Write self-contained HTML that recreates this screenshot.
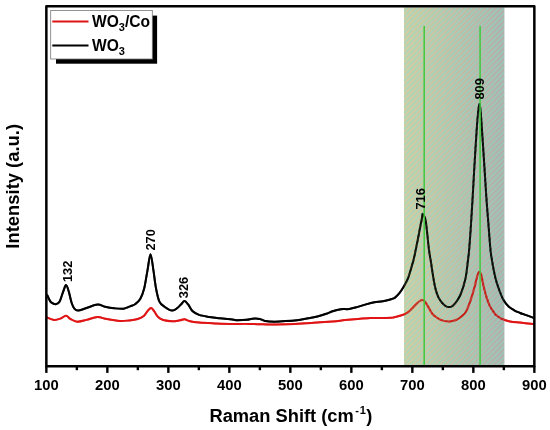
<!DOCTYPE html>
<html><head><meta charset="utf-8"><title>Raman</title>
<style>
html,body{margin:0;padding:0;background:#fff;}
body{width:550px;height:430px;overflow:hidden;}
svg{display:block;}
text{font-family:"Liberation Sans",Arial,sans-serif;font-weight:bold;fill:#000;}
.tl{font-size:14.8px;}
.pk{font-size:12.8px;}
.ax{font-size:18.3px;}
.lg{font-size:15.6px;}
</style></head>
<body>
<svg width="550" height="430" viewBox="0 0 550 430">
<defs>
<linearGradient id="bg" x1="0" y1="0" x2="1" y2="0">
<stop offset="0" stop-color="rgb(140,125,10)" stop-opacity="0.38"/>
<stop offset="1" stop-color="rgb(70,62,50)" stop-opacity="0.42"/>
</linearGradient>
<pattern id="hatch" width="3.8" height="4" patternUnits="userSpaceOnUse" patternTransform="rotate(45)">
<rect x="0" y="0" width="1.9" height="4" fill="rgb(128,225,208)" fill-opacity="0.42"/>
</pattern>
</defs>
<rect x="0" y="0" width="550" height="430" fill="#fff"/>
<!-- curves under band -->
<path d="M47.4,317.6 C48.5,318.0 51.8,319.7 54.0,319.9 C56.2,320.1 58.4,319.3 60.4,318.6 C62.4,317.9 64.3,315.7 66.0,315.8 C67.7,315.9 68.8,318.1 70.7,319.1 C72.6,320.1 74.6,321.6 77.2,321.7 C79.8,321.8 83.1,320.7 86.5,319.9 C89.9,319.1 94.2,317.2 97.6,317.1 C101.0,317.0 103.2,318.5 106.9,319.1 C110.6,319.8 116.2,320.8 119.9,321.0 C123.6,321.2 126.2,320.7 129.2,320.4 C132.2,320.1 135.2,319.8 137.7,319.0 C140.2,318.2 142.4,317.1 144.1,315.7 C145.8,314.3 146.7,311.9 147.9,310.6 C149.1,309.3 150.1,307.9 151.2,308.0 C152.3,308.1 153.2,309.9 154.3,311.4 C155.5,312.9 156.6,315.6 158.1,317.0 C159.6,318.4 161.0,319.3 163.3,320.0 C165.7,320.7 169.4,321.2 172.2,321.3 C175.0,321.4 177.8,320.6 179.9,320.3 C182.0,320.0 182.8,319.1 184.5,319.3 C186.2,319.5 187.7,320.8 190.1,321.3 C192.5,321.9 195.0,322.2 199.1,322.6 C203.2,323.0 209.2,323.2 214.4,323.4 C219.6,323.6 224.3,323.8 230.0,323.9 C235.7,324.0 243.0,323.8 248.6,323.9 C254.2,324.0 258.9,324.2 263.5,324.3 C268.1,324.4 271.2,324.6 276.5,324.5 C281.8,324.4 288.8,324.2 295.0,323.9 C301.2,323.6 307.3,323.2 313.6,322.8 C319.9,322.4 327.4,321.9 332.6,321.5 C337.9,321.1 340.9,320.5 345.1,320.1 C349.3,319.7 353.5,319.4 357.7,319.0 C361.9,318.6 366.0,318.2 370.2,318.0 C374.4,317.8 379.0,318.1 382.8,318.0 C386.6,317.9 390.1,317.8 393.2,317.4 C396.3,316.9 399.2,316.1 401.6,315.3 C404.1,314.5 406.2,313.4 407.9,312.3 C409.6,311.2 410.2,310.4 411.6,309.0 C413.0,307.6 414.8,305.5 416.2,304.2 C417.6,302.9 418.8,301.7 419.9,301.0 C420.9,300.3 421.6,300.0 422.5,300.1 C423.4,300.2 424.1,300.6 425.0,301.6 C425.9,302.7 427.0,304.8 428.0,306.4 C429.0,308.0 430.1,310.1 430.9,311.5 C431.7,312.9 432.1,313.6 433.0,314.5 C433.9,315.4 434.5,316.0 436.0,317.0 C437.5,318.0 439.8,319.7 442.0,320.4 C444.2,321.1 446.7,321.5 449.0,321.4 C451.3,321.3 453.8,320.9 456.0,320.0 C458.2,319.1 460.5,317.2 462.0,316.0 C463.5,314.8 464.1,314.5 465.1,313.0 C466.1,311.5 467.0,309.8 468.1,307.1 C469.2,304.4 470.6,300.3 471.7,296.9 C472.8,293.5 473.8,289.8 474.7,286.6 C475.6,283.4 476.1,280.2 476.8,277.8 C477.5,275.4 478.3,272.5 479.0,272.0 C479.7,271.5 480.5,272.7 481.2,274.9 C481.9,277.1 482.5,281.5 483.4,285.2 C484.3,288.9 485.3,293.4 486.4,296.9 C487.5,300.4 488.7,303.7 490.0,306.4 C491.3,309.1 493.4,311.6 494.4,313.0 C495.4,314.4 494.7,314.0 496.0,315.0 C497.3,316.0 499.7,317.9 502.0,319.0 C504.3,320.1 507.0,320.8 510.0,321.4 C513.0,322.0 516.2,322.2 520.0,322.6 C523.8,323.0 530.8,323.8 533.0,324.0" fill="none" stroke="#e01414" stroke-width="2" stroke-linejoin="round" stroke-linecap="round"/>
<path d="M47.4,295.3 C47.7,296.0 48.7,298.3 49.3,299.5 C49.9,300.7 50.1,301.6 51.2,302.4 C52.3,303.2 54.4,304.3 55.8,304.2 C57.2,304.1 58.3,303.9 59.5,301.8 C60.7,299.7 62.1,294.4 63.2,291.6 C64.3,288.8 65.1,285.1 66.0,285.1 C66.9,285.1 67.9,288.7 68.8,291.6 C69.7,294.6 70.7,300.0 71.6,302.8 C72.5,305.6 73.3,307.4 74.4,308.7 C75.5,310.0 76.1,310.7 78.1,310.6 C80.1,310.5 83.2,309.0 86.5,308.0 C89.8,307.0 94.5,304.8 97.6,304.6 C100.7,304.4 102.2,306.2 105.0,306.8 C107.8,307.4 111.2,308.0 114.3,308.3 C117.4,308.6 121.0,309.0 123.6,308.7 C126.2,308.4 128.1,307.1 130.0,306.4 C131.9,305.6 133.4,305.4 135.1,304.2 C136.8,303.0 138.7,301.7 140.2,299.1 C141.7,296.5 142.9,293.5 144.1,288.8 C145.3,284.1 146.3,276.6 147.4,270.9 C148.5,265.1 149.5,254.3 150.5,254.3 C151.5,254.3 152.6,265.1 153.5,270.9 C154.4,276.6 155.1,283.7 156.1,288.8 C157.1,293.9 158.0,298.6 159.4,301.6 C160.8,304.6 162.4,305.2 164.5,306.7 C166.6,308.2 170.1,310.4 172.2,310.6 C174.3,310.8 175.8,309.1 177.3,308.0 C178.8,306.9 180.0,305.3 181.2,304.2 C182.4,303.1 183.3,301.0 184.5,301.1 C185.7,301.2 186.9,303.0 188.3,304.7 C189.7,306.4 190.9,309.6 192.7,311.3 C194.5,313.0 196.3,313.9 199.1,314.9 C201.9,315.8 205.9,316.4 209.3,317.0 C212.7,317.6 215.7,317.9 219.5,318.3 C223.3,318.7 229.3,319.2 232.3,319.5 C235.3,319.8 235.0,320.1 237.4,320.2 C239.8,320.2 244.2,320.1 246.7,319.8 C249.2,319.6 250.1,318.9 252.3,318.7 C254.5,318.5 257.5,318.5 259.7,318.9 C261.9,319.3 262.8,320.6 265.3,321.1 C267.8,321.6 271.2,321.7 274.6,321.7 C278.0,321.7 282.1,321.4 285.8,321.1 C289.5,320.9 293.2,320.7 296.9,320.2 C300.6,319.7 304.7,318.9 308.1,318.3 C311.5,317.7 314.4,317.2 317.4,316.5 C320.4,315.8 323.8,314.7 326.3,313.8 C328.8,312.9 330.2,312.1 332.6,311.3 C335.0,310.5 338.1,309.6 340.9,309.2 C343.7,308.8 346.5,309.4 349.3,309.0 C352.1,308.6 354.9,307.7 357.7,306.9 C360.5,306.1 363.2,305.2 366.0,304.4 C368.8,303.6 371.6,302.8 374.4,302.3 C377.2,301.8 380.0,301.8 382.8,301.3 C385.6,300.8 389.1,299.8 391.1,299.2 C393.1,298.6 393.6,298.6 395.0,297.6 C396.4,296.6 397.9,295.0 399.4,293.2 C400.9,291.4 402.3,289.2 403.8,286.6 C405.3,284.0 406.9,281.2 408.2,277.8 C409.5,274.4 410.8,269.4 411.8,266.1 C412.8,262.8 413.3,261.1 414.0,258.0 C414.7,254.9 415.5,251.1 416.2,247.5 C416.9,243.9 417.7,240.2 418.4,236.5 C419.1,232.8 419.9,228.6 420.5,225.5 C421.1,222.4 421.6,219.9 422.0,218.0 C422.4,216.1 422.2,213.4 422.8,214.0 C423.4,214.6 424.8,215.4 425.8,221.4 C426.8,227.4 428.1,243.3 429.0,250.0 C429.9,256.7 430.2,257.3 430.9,261.7 C431.6,266.1 432.4,272.0 433.1,276.4 C433.8,280.8 434.5,284.7 435.3,288.1 C436.1,291.5 437.1,294.5 438.2,296.9 C439.3,299.3 440.7,301.2 441.9,302.7 C443.1,304.2 444.3,305.3 445.5,306.0 C446.7,306.7 447.7,307.2 448.9,307.1 C450.1,307.1 451.5,306.8 452.9,305.7 C454.3,304.6 456.0,302.4 457.3,300.5 C458.6,298.6 459.5,296.8 460.5,294.5 C461.5,292.2 462.3,290.0 463.2,287.0 C464.1,284.0 465.1,280.9 465.9,276.4 C466.7,271.9 467.4,264.7 468.0,260.0 C468.6,255.3 468.8,254.0 469.3,248.0 C469.8,242.0 470.5,232.0 471.0,224.0 C471.5,216.0 471.7,213.2 472.5,200.0 C473.3,186.8 474.6,161.0 475.7,145.0 C476.8,129.0 478.1,104.5 479.3,104.0 C480.5,103.5 481.7,126.8 482.8,142.0 C483.9,157.2 485.2,181.2 486.2,195.0 C487.1,208.8 487.8,215.8 488.5,225.0 C489.2,234.2 489.9,243.9 490.5,250.0 C491.1,256.1 491.6,257.8 492.2,261.7 C492.8,265.6 493.7,270.0 494.4,273.4 C495.1,276.8 495.7,279.3 496.6,282.2 C497.5,285.1 498.5,288.1 499.6,291.0 C500.7,293.9 501.7,296.9 503.2,299.5 C504.7,302.1 506.8,304.7 508.6,306.5 C510.4,308.3 512.3,309.2 514.2,310.3 C516.1,311.4 518.5,312.3 520.1,313.0 C521.7,313.7 521.9,313.6 524.0,314.4 C526.1,315.2 531.5,317.1 533.0,317.6" fill="none" stroke="#000" stroke-width="2" stroke-linejoin="round" stroke-linecap="round"/>
<!-- band -->
<rect x="404" y="7.4" width="100.4" height="357.6" fill="url(#bg)"/>
<rect x="404" y="7.4" width="100.4" height="357.6" fill="url(#hatch)"/>
<!-- curves again, tinted by band -->
<path opacity="0.6" d="M47.4,317.6 C48.5,318.0 51.8,319.7 54.0,319.9 C56.2,320.1 58.4,319.3 60.4,318.6 C62.4,317.9 64.3,315.7 66.0,315.8 C67.7,315.9 68.8,318.1 70.7,319.1 C72.6,320.1 74.6,321.6 77.2,321.7 C79.8,321.8 83.1,320.7 86.5,319.9 C89.9,319.1 94.2,317.2 97.6,317.1 C101.0,317.0 103.2,318.5 106.9,319.1 C110.6,319.8 116.2,320.8 119.9,321.0 C123.6,321.2 126.2,320.7 129.2,320.4 C132.2,320.1 135.2,319.8 137.7,319.0 C140.2,318.2 142.4,317.1 144.1,315.7 C145.8,314.3 146.7,311.9 147.9,310.6 C149.1,309.3 150.1,307.9 151.2,308.0 C152.3,308.1 153.2,309.9 154.3,311.4 C155.5,312.9 156.6,315.6 158.1,317.0 C159.6,318.4 161.0,319.3 163.3,320.0 C165.7,320.7 169.4,321.2 172.2,321.3 C175.0,321.4 177.8,320.6 179.9,320.3 C182.0,320.0 182.8,319.1 184.5,319.3 C186.2,319.5 187.7,320.8 190.1,321.3 C192.5,321.9 195.0,322.2 199.1,322.6 C203.2,323.0 209.2,323.2 214.4,323.4 C219.6,323.6 224.3,323.8 230.0,323.9 C235.7,324.0 243.0,323.8 248.6,323.9 C254.2,324.0 258.9,324.2 263.5,324.3 C268.1,324.4 271.2,324.6 276.5,324.5 C281.8,324.4 288.8,324.2 295.0,323.9 C301.2,323.6 307.3,323.2 313.6,322.8 C319.9,322.4 327.4,321.9 332.6,321.5 C337.9,321.1 340.9,320.5 345.1,320.1 C349.3,319.7 353.5,319.4 357.7,319.0 C361.9,318.6 366.0,318.2 370.2,318.0 C374.4,317.8 379.0,318.1 382.8,318.0 C386.6,317.9 390.1,317.8 393.2,317.4 C396.3,316.9 399.2,316.1 401.6,315.3 C404.1,314.5 406.2,313.4 407.9,312.3 C409.6,311.2 410.2,310.4 411.6,309.0 C413.0,307.6 414.8,305.5 416.2,304.2 C417.6,302.9 418.8,301.7 419.9,301.0 C420.9,300.3 421.6,300.0 422.5,300.1 C423.4,300.2 424.1,300.6 425.0,301.6 C425.9,302.7 427.0,304.8 428.0,306.4 C429.0,308.0 430.1,310.1 430.9,311.5 C431.7,312.9 432.1,313.6 433.0,314.5 C433.9,315.4 434.5,316.0 436.0,317.0 C437.5,318.0 439.8,319.7 442.0,320.4 C444.2,321.1 446.7,321.5 449.0,321.4 C451.3,321.3 453.8,320.9 456.0,320.0 C458.2,319.1 460.5,317.2 462.0,316.0 C463.5,314.8 464.1,314.5 465.1,313.0 C466.1,311.5 467.0,309.8 468.1,307.1 C469.2,304.4 470.6,300.3 471.7,296.9 C472.8,293.5 473.8,289.8 474.7,286.6 C475.6,283.4 476.1,280.2 476.8,277.8 C477.5,275.4 478.3,272.5 479.0,272.0 C479.7,271.5 480.5,272.7 481.2,274.9 C481.9,277.1 482.5,281.5 483.4,285.2 C484.3,288.9 485.3,293.4 486.4,296.9 C487.5,300.4 488.7,303.7 490.0,306.4 C491.3,309.1 493.4,311.6 494.4,313.0 C495.4,314.4 494.7,314.0 496.0,315.0 C497.3,316.0 499.7,317.9 502.0,319.0 C504.3,320.1 507.0,320.8 510.0,321.4 C513.0,322.0 516.2,322.2 520.0,322.6 C523.8,323.0 530.8,323.8 533.0,324.0" fill="none" stroke="#e01414" stroke-width="2" stroke-linejoin="round" stroke-linecap="round"/>
<path opacity="0.72" d="M47.4,295.3 C47.7,296.0 48.7,298.3 49.3,299.5 C49.9,300.7 50.1,301.6 51.2,302.4 C52.3,303.2 54.4,304.3 55.8,304.2 C57.2,304.1 58.3,303.9 59.5,301.8 C60.7,299.7 62.1,294.4 63.2,291.6 C64.3,288.8 65.1,285.1 66.0,285.1 C66.9,285.1 67.9,288.7 68.8,291.6 C69.7,294.6 70.7,300.0 71.6,302.8 C72.5,305.6 73.3,307.4 74.4,308.7 C75.5,310.0 76.1,310.7 78.1,310.6 C80.1,310.5 83.2,309.0 86.5,308.0 C89.8,307.0 94.5,304.8 97.6,304.6 C100.7,304.4 102.2,306.2 105.0,306.8 C107.8,307.4 111.2,308.0 114.3,308.3 C117.4,308.6 121.0,309.0 123.6,308.7 C126.2,308.4 128.1,307.1 130.0,306.4 C131.9,305.6 133.4,305.4 135.1,304.2 C136.8,303.0 138.7,301.7 140.2,299.1 C141.7,296.5 142.9,293.5 144.1,288.8 C145.3,284.1 146.3,276.6 147.4,270.9 C148.5,265.1 149.5,254.3 150.5,254.3 C151.5,254.3 152.6,265.1 153.5,270.9 C154.4,276.6 155.1,283.7 156.1,288.8 C157.1,293.9 158.0,298.6 159.4,301.6 C160.8,304.6 162.4,305.2 164.5,306.7 C166.6,308.2 170.1,310.4 172.2,310.6 C174.3,310.8 175.8,309.1 177.3,308.0 C178.8,306.9 180.0,305.3 181.2,304.2 C182.4,303.1 183.3,301.0 184.5,301.1 C185.7,301.2 186.9,303.0 188.3,304.7 C189.7,306.4 190.9,309.6 192.7,311.3 C194.5,313.0 196.3,313.9 199.1,314.9 C201.9,315.8 205.9,316.4 209.3,317.0 C212.7,317.6 215.7,317.9 219.5,318.3 C223.3,318.7 229.3,319.2 232.3,319.5 C235.3,319.8 235.0,320.1 237.4,320.2 C239.8,320.2 244.2,320.1 246.7,319.8 C249.2,319.6 250.1,318.9 252.3,318.7 C254.5,318.5 257.5,318.5 259.7,318.9 C261.9,319.3 262.8,320.6 265.3,321.1 C267.8,321.6 271.2,321.7 274.6,321.7 C278.0,321.7 282.1,321.4 285.8,321.1 C289.5,320.9 293.2,320.7 296.9,320.2 C300.6,319.7 304.7,318.9 308.1,318.3 C311.5,317.7 314.4,317.2 317.4,316.5 C320.4,315.8 323.8,314.7 326.3,313.8 C328.8,312.9 330.2,312.1 332.6,311.3 C335.0,310.5 338.1,309.6 340.9,309.2 C343.7,308.8 346.5,309.4 349.3,309.0 C352.1,308.6 354.9,307.7 357.7,306.9 C360.5,306.1 363.2,305.2 366.0,304.4 C368.8,303.6 371.6,302.8 374.4,302.3 C377.2,301.8 380.0,301.8 382.8,301.3 C385.6,300.8 389.1,299.8 391.1,299.2 C393.1,298.6 393.6,298.6 395.0,297.6 C396.4,296.6 397.9,295.0 399.4,293.2 C400.9,291.4 402.3,289.2 403.8,286.6 C405.3,284.0 406.9,281.2 408.2,277.8 C409.5,274.4 410.8,269.4 411.8,266.1 C412.8,262.8 413.3,261.1 414.0,258.0 C414.7,254.9 415.5,251.1 416.2,247.5 C416.9,243.9 417.7,240.2 418.4,236.5 C419.1,232.8 419.9,228.6 420.5,225.5 C421.1,222.4 421.6,219.9 422.0,218.0 C422.4,216.1 422.2,213.4 422.8,214.0 C423.4,214.6 424.8,215.4 425.8,221.4 C426.8,227.4 428.1,243.3 429.0,250.0 C429.9,256.7 430.2,257.3 430.9,261.7 C431.6,266.1 432.4,272.0 433.1,276.4 C433.8,280.8 434.5,284.7 435.3,288.1 C436.1,291.5 437.1,294.5 438.2,296.9 C439.3,299.3 440.7,301.2 441.9,302.7 C443.1,304.2 444.3,305.3 445.5,306.0 C446.7,306.7 447.7,307.2 448.9,307.1 C450.1,307.1 451.5,306.8 452.9,305.7 C454.3,304.6 456.0,302.4 457.3,300.5 C458.6,298.6 459.5,296.8 460.5,294.5 C461.5,292.2 462.3,290.0 463.2,287.0 C464.1,284.0 465.1,280.9 465.9,276.4 C466.7,271.9 467.4,264.7 468.0,260.0 C468.6,255.3 468.8,254.0 469.3,248.0 C469.8,242.0 470.5,232.0 471.0,224.0 C471.5,216.0 471.7,213.2 472.5,200.0 C473.3,186.8 474.6,161.0 475.7,145.0 C476.8,129.0 478.1,104.5 479.3,104.0 C480.5,103.5 481.7,126.8 482.8,142.0 C483.9,157.2 485.2,181.2 486.2,195.0 C487.1,208.8 487.8,215.8 488.5,225.0 C489.2,234.2 489.9,243.9 490.5,250.0 C491.1,256.1 491.6,257.8 492.2,261.7 C492.8,265.6 493.7,270.0 494.4,273.4 C495.1,276.8 495.7,279.3 496.6,282.2 C497.5,285.1 498.5,288.1 499.6,291.0 C500.7,293.9 501.7,296.9 503.2,299.5 C504.7,302.1 506.8,304.7 508.6,306.5 C510.4,308.3 512.3,309.2 514.2,310.3 C516.1,311.4 518.5,312.3 520.1,313.0 C521.7,313.7 521.9,313.6 524.0,314.4 C526.1,315.2 531.5,317.1 533.0,317.6" fill="none" stroke="#000" stroke-width="2" stroke-linejoin="round" stroke-linecap="round"/>
<line x1="424.2" y1="26" x2="424.2" y2="365" stroke="#40c83c" stroke-width="1.5"/>
<line x1="480.1" y1="26" x2="480.1" y2="365" stroke="#40c83c" stroke-width="1.5"/>
<!-- frame -->
<rect x="46.35" y="6.3" width="488" height="359.9" fill="none" stroke="#000" stroke-width="2.5" stroke-linejoin="round"/>
<line x1="46.35" y1="366" x2="46.35" y2="372.9" stroke="#000" stroke-width="2.4"/>
<line x1="107.35" y1="366" x2="107.35" y2="372.9" stroke="#000" stroke-width="2.4"/>
<line x1="168.35" y1="366" x2="168.35" y2="372.9" stroke="#000" stroke-width="2.4"/>
<line x1="229.35" y1="366" x2="229.35" y2="372.9" stroke="#000" stroke-width="2.4"/>
<line x1="290.35" y1="366" x2="290.35" y2="372.9" stroke="#000" stroke-width="2.4"/>
<line x1="351.35" y1="366" x2="351.35" y2="372.9" stroke="#000" stroke-width="2.4"/>
<line x1="412.35" y1="366" x2="412.35" y2="372.9" stroke="#000" stroke-width="2.4"/>
<line x1="473.35" y1="366" x2="473.35" y2="372.9" stroke="#000" stroke-width="2.4"/>
<line x1="534.35" y1="366" x2="534.35" y2="372.9" stroke="#000" stroke-width="2.4"/>
<line x1="76.85" y1="366" x2="76.85" y2="370.2" stroke="#000" stroke-width="2.4"/>
<line x1="137.85" y1="366" x2="137.85" y2="370.2" stroke="#000" stroke-width="2.4"/>
<line x1="198.85" y1="366" x2="198.85" y2="370.2" stroke="#000" stroke-width="2.4"/>
<line x1="259.85" y1="366" x2="259.85" y2="370.2" stroke="#000" stroke-width="2.4"/>
<line x1="320.85" y1="366" x2="320.85" y2="370.2" stroke="#000" stroke-width="2.4"/>
<line x1="381.85" y1="366" x2="381.85" y2="370.2" stroke="#000" stroke-width="2.4"/>
<line x1="442.85" y1="366" x2="442.85" y2="370.2" stroke="#000" stroke-width="2.4"/>
<line x1="503.85" y1="366" x2="503.85" y2="370.2" stroke="#000" stroke-width="2.4"/>

<text x="46.35" y="389.7" text-anchor="middle" class="tl">100</text>
<text x="107.35" y="389.7" text-anchor="middle" class="tl">200</text>
<text x="168.35" y="389.7" text-anchor="middle" class="tl">300</text>
<text x="229.35" y="389.7" text-anchor="middle" class="tl">400</text>
<text x="290.35" y="389.7" text-anchor="middle" class="tl">500</text>
<text x="351.35" y="389.7" text-anchor="middle" class="tl">600</text>
<text x="412.35" y="389.7" text-anchor="middle" class="tl">700</text>
<text x="473.35" y="389.7" text-anchor="middle" class="tl">800</text>
<text x="534.35" y="389.7" text-anchor="middle" class="tl">900</text>

<text transform="translate(71.8,282.0) rotate(-90)" class="pk">132</text>
<text transform="translate(155.1,250.5) rotate(-90)" class="pk">270</text>
<text transform="translate(188.3,298.2) rotate(-90)" class="pk">326</text>
<text transform="translate(424.9,209.5) rotate(-90)" class="pk">716</text>
<text transform="translate(483.7,99.5) rotate(-90)" class="pk">809</text>

<text x="209.5" y="421.8" class="ax">Raman Shift (cm<tspan font-size="11px" dy="-8.2" dx="1.6">-</tspan><tspan font-size="11px" dx="0.8">1</tspan><tspan dy="8.2" dx="0.2">)</tspan></text>
<text transform="translate(18.8,186.3) rotate(-90)" text-anchor="middle" class="ax" style="font-size:18.4px">Intensity (a.u.)</text>
<!-- legend -->
<rect x="56" y="15.6" width="101.1" height="48.1" fill="#000"/>
<rect x="50.7" y="10.4" width="101.6" height="48.6" fill="#fff" stroke="#777" stroke-width="0.8"/>
<line x1="52.3" y1="21.6" x2="88.5" y2="21.6" stroke="#e01414" stroke-width="2"/>
<line x1="52.3" y1="45.5" x2="88.5" y2="45.5" stroke="#000" stroke-width="2"/>
<text x="92" y="26.9" class="lg">WO<tspan font-size="11px" dy="4">3</tspan><tspan dy="-4">/Co</tspan></text>
<text x="92" y="50.6" class="lg">WO<tspan font-size="11px" dy="4">3</tspan></text>
</svg>
</body></html>
